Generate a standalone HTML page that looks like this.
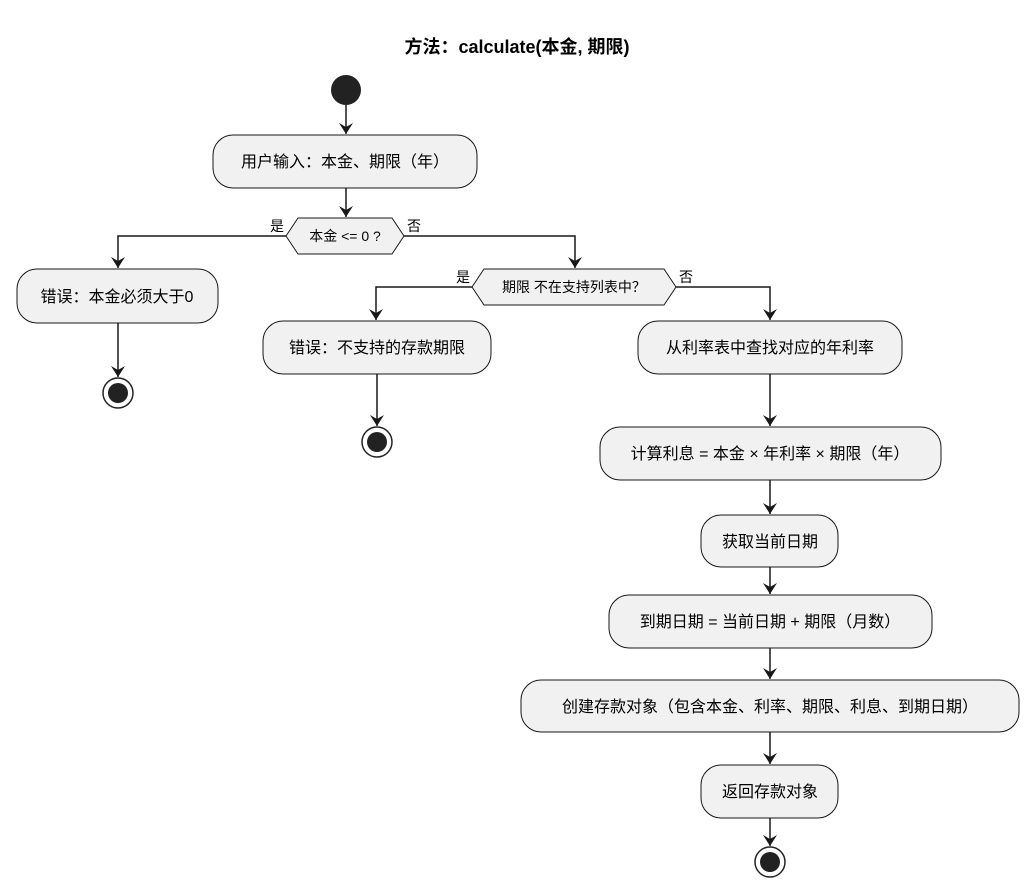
<!DOCTYPE html>
<html><head><meta charset="utf-8"><style>body{margin:0;background:#fff}svg{display:block}text{font-family:"Liberation Sans","Noto Sans CJK SC",sans-serif}</style></head><body>
<svg width="1034" height="894" viewBox="0 0 1034 894" xmlns="http://www.w3.org/2000/svg">
<defs><marker id="a" markerWidth="12" markerHeight="14" refX="11" refY="7" orient="auto" markerUnits="userSpaceOnUse"><path d="M0,0 L11,7 L0,14 L4,7 Z" fill="#181818"/></marker></defs>
<text x="517" y="53" text-anchor="middle" font-size="18" font-weight="bold" fill="#000">方法：calculate(本金, 期限)</text>
<g stroke="#181818" stroke-width="1" fill="#f1f1f1">
<rect x="213" y="135" width="264" height="53" rx="20"/>
<rect x="17" y="269" width="201" height="54" rx="20"/>
<rect x="263" y="321" width="228" height="53" rx="20"/>
<rect x="638" y="321" width="264" height="53" rx="20"/>
<rect x="600" y="427" width="341" height="53" rx="20"/>
<rect x="701" y="515" width="137" height="52" rx="20"/>
<rect x="609" y="595" width="323" height="53" rx="20"/>
<rect x="521" y="680" width="498" height="52" rx="20"/>
<rect x="701" y="765" width="137" height="53" rx="20"/>
<polygon points="286,236 298,218 392,218 404,236 392,254 298,254"/>
<polygon points="472,287 484,269 664,269 676,287 664,305 484,305"/>
</g>
<circle cx="346" cy="90" r="15" fill="#222"/>
<g fill="none" stroke="#222" stroke-width="1.5">
<circle cx="118" cy="393" r="15"/><circle cx="377" cy="442" r="15"/><circle cx="770" cy="862" r="15"/></g>
<g fill="#222"><circle cx="118" cy="393" r="10"/><circle cx="377" cy="442" r="10"/><circle cx="770" cy="862" r="10"/></g>
<g stroke="#181818" stroke-width="1.5" fill="none" marker-end="url(#a)">
<path d="M346,105 V134"/><path d="M346,188 V217"/>
<path d="M286,236 H118 V268"/><path d="M118,323 V377"/>
<path d="M404,236 H575 V268"/>
<path d="M472,287 H376 V320"/><path d="M377,374 V426"/>
<path d="M676,287 H770 V320"/><path d="M770,374 V426"/><path d="M770,480 V514"/><path d="M770,567 V594"/><path d="M770,648 V679"/><path d="M770,732 V764"/><path d="M770,818 V846"/>
</g>
<g font-size="16" fill="#000" text-anchor="middle">
<text x="345" y="167">用户输入：本金、期限（年）</text>
<text x="117" y="302">错误：本金必须大于0</text>
<text x="377" y="353">错误：不支持的存款期限</text>
<text x="770" y="353">从利率表中查找对应的年利率</text>
<text x="770" y="459">计算利息 = 本金 × 年利率 × 期限（年）</text>
<text x="770" y="547">获取当前日期</text>
<text x="770" y="627">到期日期 = 当前日期 + 期限（月数）</text>
<text x="770" y="712">创建存款对象（包含本金、利率、期限、利息、到期日期）</text>
<text x="770" y="797">返回存款对象</text>
</g>
<g font-size="14" fill="#000">
<text x="345" y="241" text-anchor="middle">本金 &lt;= 0 ?</text>
<text x="574" y="292" text-anchor="middle">期限 不在支持列表中？</text>
<text x="270" y="231">是</text><text x="407" y="231">否</text>
<text x="456" y="282">是</text><text x="679" y="282">否</text>
</g>
</svg>
</body></html>
